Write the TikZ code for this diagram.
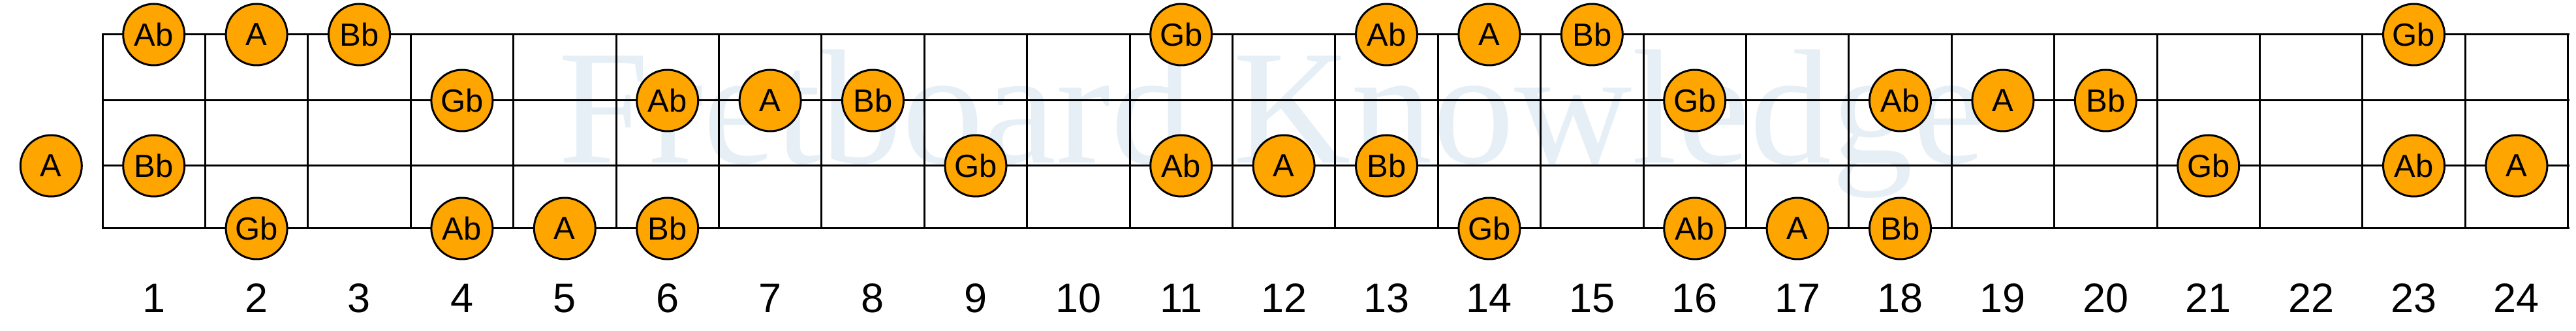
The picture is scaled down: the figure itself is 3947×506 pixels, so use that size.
\documentclass[tikz,border=0pt]{standalone}
\usepackage{fontspec}
\setmainfont{Liberation Sans}
\newfontfamily\wmarkfont{Liberation Serif}
\usetikzlibrary{backgrounds}
\definecolor{noteorange}{RGB}{255,165,0}
\definecolor{wmarkblue}{RGB}{230,239,245}

\def\nutx{157}
\def\fretw{157.4}
\def\stringys{{453,352,252,156}}
\def\scalenotes{%  \sstring/\sfret/\sname
  3/0/A,%
  1/1/Ab, 3/1/Bb, 1/2/A, 4/2/Gb, 1/3/Bb,%
  2/4/Gb, 4/4/Ab, 4/5/A, 2/6/Ab, 4/6/Bb,%
  2/7/A, 2/8/Bb, 3/9/Gb,%
  1/11/Gb, 3/11/Ab, 3/12/A, 1/13/Ab, 3/13/Bb,%
  1/14/A, 4/14/Gb, 1/15/Bb,%
  2/16/Gb, 4/16/Ab, 4/17/A, 2/18/Ab, 4/18/Bb,%
  2/19/A, 2/20/Bb, 3/21/Gb,%
  1/23/Gb, 3/23/Ab, 3/24/A%
}

\begin{document}
\begin{tikzpicture}[x=1pt,y=1pt,
    note/.style={circle, draw, line width=3pt, fill=noteorange,
      minimum size=94pt, inner sep=0pt, font=\fontsize{49}{49}\selectfont},
    fretnum/.style={inner sep=0pt, font=\fontsize{63}{63}\selectfont},
    grid/.style={line width=3pt, line cap=rect}]

  \useasboundingbox (0,0) rectangle (3947,506);

  \begin{pgfonlayer}{background}
    \node[anchor=base west, inner sep=0pt, text=wmarkblue,%
      font=\wmarkfont\fontsize{250}{250}\selectfont] (wmark)%
      at (855,256) {Fretboard Knowledge};
  \end{pgfonlayer}

  % strings
  \foreach \s in {0,...,3} {%
    \pgfmathsetmacro\sy{\stringys[\s]}
    \draw[grid] (\nutx,\sy) -- (3935,\sy);
  }
  % frets
  \foreach \f in {0,...,24} {%
    \draw[grid] ({\nutx+\f*\fretw},453) -- ({\nutx+\f*\fretw},156);
  }
  % fret numbers
  \foreach \f in {1,...,24} {%
    \node[fretnum] (num\f) at ({\nutx+(\f-0.5)*\fretw},49) {\f};
  }
  % notes
  \foreach \sstring/\sfret/\sname in \scalenotes {%
    \pgfmathsetmacro\sy{\stringys[\sstring-1]}
    \node[note] (n\sstring-\sfret) at ({\nutx+(\sfret-0.5)*\fretw},\sy) {\sname};
  }

\end{tikzpicture}
\end{document}
